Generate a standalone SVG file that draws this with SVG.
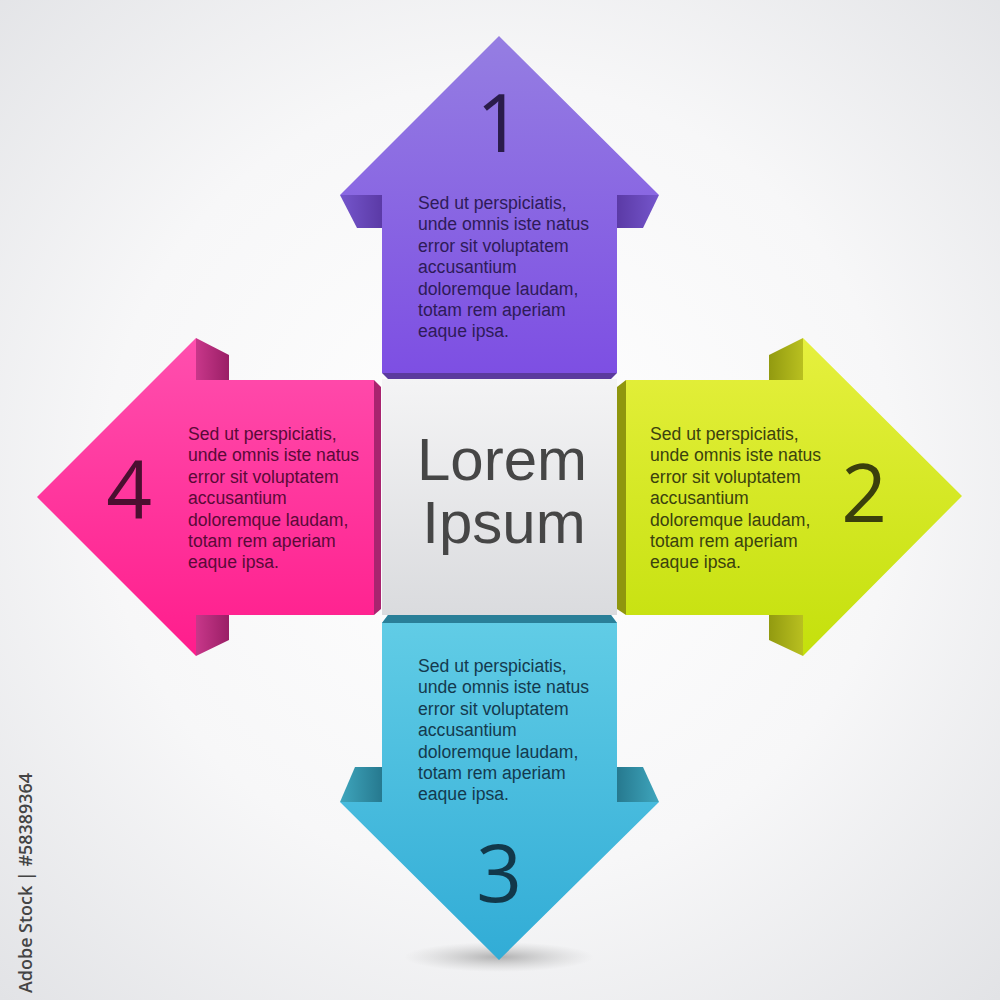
<svg xmlns="http://www.w3.org/2000/svg" width="1000" height="1000" viewBox="0 0 1000 1000">
<defs>
<radialGradient id="bg" cx="500" cy="480" r="720" gradientUnits="userSpaceOnUse">
<stop offset="0" stop-color="#ffffff"/><stop offset="0.55" stop-color="#f7f7f8"/><stop offset="1" stop-color="#e2e3e6"/>
</radialGradient>
<radialGradient id="shadow" cx="0.5" cy="0.5" r="0.5">
<stop offset="0" stop-color="#9a9a9a" stop-opacity="0.75"/><stop offset="1" stop-color="#bbbbbb" stop-opacity="0"/>
</radialGradient>
<linearGradient id="gPurple" x1="0" y1="36" x2="0" y2="379" gradientUnits="userSpaceOnUse">
<stop offset="0" stop-color="#957ee2"/><stop offset="1" stop-color="#7d4ee3"/>
</linearGradient>
<linearGradient id="gPurpleSide" x1="0" y1="0" x2="1" y2="0">
<stop offset="0" stop-color="#7556cc"/><stop offset="1" stop-color="#5b3aa6"/>
</linearGradient>
<linearGradient id="gPurpleSideR" x1="1" y1="0" x2="0" y2="0">
<stop offset="0" stop-color="#7556cc"/><stop offset="1" stop-color="#5b3aa6"/>
</linearGradient>
<linearGradient id="gPink" x1="0" y1="338" x2="0" y2="656" gradientUnits="userSpaceOnUse">
<stop offset="0" stop-color="#ff4fae"/><stop offset="1" stop-color="#ff1d8c"/>
</linearGradient>
<linearGradient id="gPinkSide" x1="0" y1="0" x2="1" y2="0">
<stop offset="0" stop-color="#c8378a"/><stop offset="1" stop-color="#9a1f66"/>
</linearGradient>
<linearGradient id="gGreen" x1="0" y1="338" x2="0" y2="656" gradientUnits="userSpaceOnUse">
<stop offset="0" stop-color="#e6f03e"/><stop offset="1" stop-color="#c4e00c"/>
</linearGradient>
<linearGradient id="gGreenSide" x1="1" y1="0" x2="0" y2="0">
<stop offset="0" stop-color="#b9c020"/><stop offset="1" stop-color="#929a10"/>
</linearGradient>
<linearGradient id="gCyan" x1="0" y1="615" x2="0" y2="960" gradientUnits="userSpaceOnUse">
<stop offset="0" stop-color="#62cde6"/><stop offset="1" stop-color="#31acd6"/>
</linearGradient>
<linearGradient id="gCyanSide" x1="0" y1="0" x2="1" y2="0">
<stop offset="0" stop-color="#3fa6bd"/><stop offset="1" stop-color="#26798f"/>
</linearGradient>
<linearGradient id="gCyanSideR" x1="1" y1="0" x2="0" y2="0">
<stop offset="0" stop-color="#3fa6bd"/><stop offset="1" stop-color="#26798f"/>
</linearGradient>
<linearGradient id="gCenter" x1="0" y1="379" x2="0" y2="615" gradientUnits="userSpaceOnUse">
<stop offset="0" stop-color="#f4f4f5"/><stop offset="1" stop-color="#dadbde"/>
</linearGradient>
</defs>
<style>
.body{font-family:"Liberation Sans",Arial,sans-serif;font-size:17.6px}
.num{font-family:"Open Sans","Liberation Sans",sans-serif;font-size:80px;text-anchor:middle}
.title{font-family:"Liberation Sans",Arial,sans-serif;font-size:60px;fill:#464646;text-anchor:middle}
</style>
<rect width="1000" height="1000" fill="url(#bg)"/>
<ellipse cx="499" cy="957" rx="95" ry="15" fill="url(#shadow)"/>

<g id="arrow-1">
<polygon points="340,195 382,195 382,228 357,228" fill="url(#gPurpleSide)"/>
<polygon points="617,195 659,195 643,228 617,228" fill="url(#gPurpleSideR)"/>
<polygon points="499,36 659,195 617,195 617,373 382,373 382,195 340,195" fill="url(#gPurple)"/>
<polygon points="382,373 617,373 611,379 388,379" fill="#5b3a9e"/>
<text class="num" x="499" y="152" fill="#2a1c4a">1</text>
<text class="body" fill="#2e1b58" x="418" y="209"><tspan x="418">Sed ut perspiciatis,</tspan><tspan x="418" dy="21.4">unde omnis iste natus</tspan><tspan x="418" dy="21.4">error sit voluptatem</tspan><tspan x="418" dy="21.4">accusantium</tspan><tspan x="418" dy="21.4">doloremque laudam,</tspan><tspan x="418" dy="21.4">totam rem aperiam</tspan><tspan x="418" dy="21.4">eaque ipsa.</tspan></text>
</g>

<g id="arrow-4">
<polygon points="196,338 229,355 229,380 196,380" fill="url(#gPinkSide)"/>
<polygon points="196,615 229,615 229,640 196,656" fill="url(#gPinkSide)"/>
<polygon points="37,497 196,338 196,380 374,380 374,615 196,615 196,656" fill="url(#gPink)"/>
<polygon points="374,380 381,387 381,609 374,615" fill="#a8246f"/>
<text class="num" x="129" y="518" fill="#4a0f30">4</text>
<text class="body" fill="#5a0a38" x="188" y="440"><tspan x="188">Sed ut perspiciatis,</tspan><tspan x="188" dy="21.4">unde omnis iste natus</tspan><tspan x="188" dy="21.4">error sit voluptatem</tspan><tspan x="188" dy="21.4">accusantium</tspan><tspan x="188" dy="21.4">doloremque laudam,</tspan><tspan x="188" dy="21.4">totam rem aperiam</tspan><tspan x="188" dy="21.4">eaque ipsa.</tspan></text>
</g>

<g id="arrow-2">
<polygon points="769,355 803,338 803,380 769,380" fill="url(#gGreenSide)"/>
<polygon points="769,615 803,615 803,656 769,640" fill="url(#gGreenSide)"/>
<polygon points="962,496 803,338 803,380 626,380 626,615 803,615 803,656" fill="url(#gGreen)"/>
<polygon points="617,387 626,380 626,615 617,609" fill="#8f960e"/>
<text class="num" x="864" y="522" fill="#3a3f0c">2</text>
<text class="body" fill="#3b420e" x="650" y="440"><tspan x="650">Sed ut perspiciatis,</tspan><tspan x="650" dy="21.4">unde omnis iste natus</tspan><tspan x="650" dy="21.4">error sit voluptatem</tspan><tspan x="650" dy="21.4">accusantium</tspan><tspan x="650" dy="21.4">doloremque laudam,</tspan><tspan x="650" dy="21.4">totam rem aperiam</tspan><tspan x="650" dy="21.4">eaque ipsa.</tspan></text>
</g>

<g id="arrow-3">
<polygon points="355,767 382,767 382,802 340,802" fill="url(#gCyanSide)"/>
<polygon points="617,767 643,767 659,802 617,802" fill="url(#gCyanSideR)"/>
<polygon points="388,615 611,615 617,623 617,802 659,802 499,960 340,802 382,802 382,623" fill="url(#gCyan)"/>
<polygon points="388,615 611,615 617,623 382,623" fill="#2a7f98"/>
<text class="num" x="499" y="902" fill="#12384a">3</text>
<text class="body" fill="#143a4e" x="418" y="672"><tspan x="418">Sed ut perspiciatis,</tspan><tspan x="418" dy="21.4">unde omnis iste natus</tspan><tspan x="418" dy="21.4">error sit voluptatem</tspan><tspan x="418" dy="21.4">accusantium</tspan><tspan x="418" dy="21.4">doloremque laudam,</tspan><tspan x="418" dy="21.4">totam rem aperiam</tspan><tspan x="418" dy="21.4">eaque ipsa.</tspan></text>
</g>

<g id="center">
<rect x="382" y="379" width="235" height="236" fill="url(#gCenter)"/>
<text class="title" x="502" y="480">Lorem</text>
<text class="title" x="504" y="543">Ipsum</text>
</g>

<text x="32" y="993" transform="rotate(-90 32 993)" font-family="'Open Sans','Liberation Sans',sans-serif" font-size="18" font-weight="600" fill="#444444" textLength="220" lengthAdjust="spacingAndGlyphs">Adobe Stock | #58389364</text>
</svg>
